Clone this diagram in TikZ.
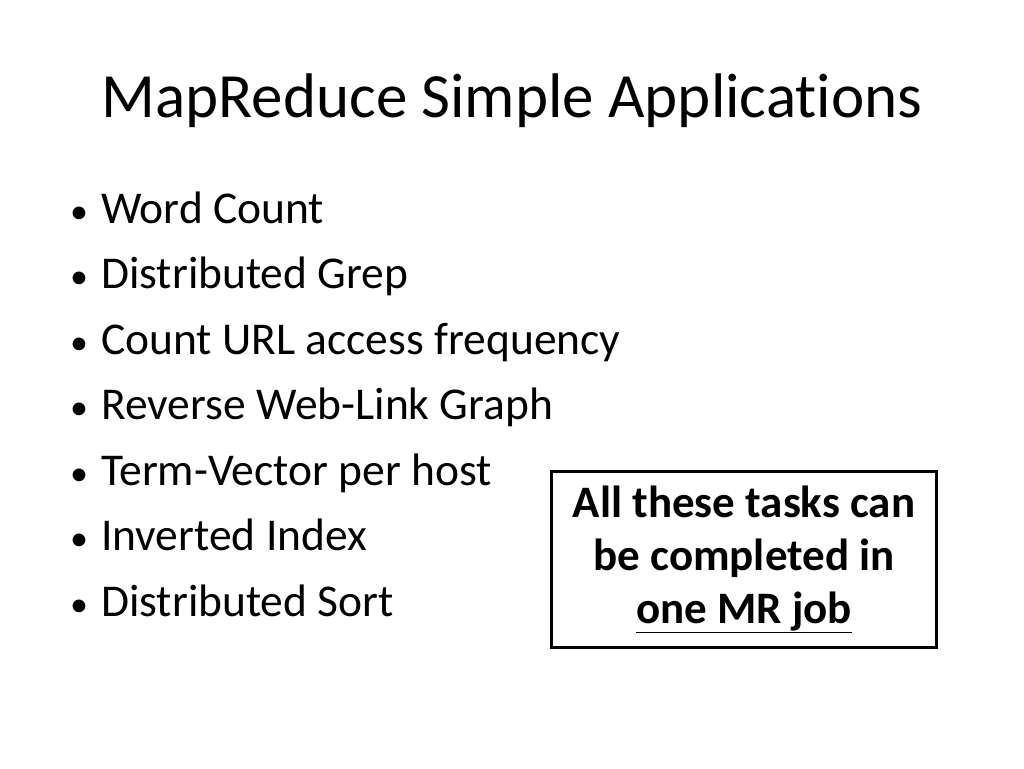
\documentclass[tikz,border=0pt]{standalone}
\usepackage{fontspec}
\setmainfont{Carlito}[Ligatures=NoCommon]
\begin{document}
\begin{tikzpicture}[x=1pt,y=-1pt,
  item/.style={anchor=base west,font=\fontsize{45.5}{50}\selectfont,inner sep=0pt},
  dot/.style={anchor=base,font=\fontsize{36}{40}\selectfont,inner sep=0pt}]
\useasboundingbox (0,0) rectangle (1024,768);
\node[font=\fontsize{63}{70}\selectfont,anchor=base,inner sep=0pt] (title) at (512,117) {MapReduce Simple Applications};
\foreach \t [count=\i] in {Word Count,Distributed Grep,Count URL access frequency,Reverse Web-Link Graph,Term-Vector per host,Inverted Index,Distributed Sort}{
  \node[dot] (b\i) at (79,{223+(\i-1)*65.5}) {\textbullet};
  \node[item] (t\i) at (101,{223+(\i-1)*65.5}) {\t};
}
\node[draw,line width=3pt,minimum width=385pt,minimum height=176pt,align=center,
  font=\fontsize{45}{53}\selectfont\bfseries] (box) at (744,559.5)
  {All these tasks can\\be completed in\\\underline{one MR job}};
\end{tikzpicture}
\end{document}
